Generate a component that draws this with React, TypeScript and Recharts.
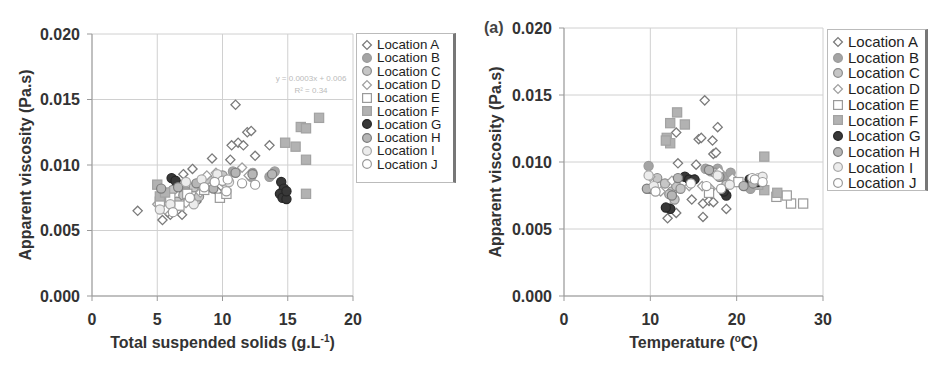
import React from "react";
import { ScatterChart, Scatter, XAxis, YAxis, CartesianGrid, Label } from "recharts";

type Pt = { x: number; y: number };
const pts = (arr: number[][]): Pt[] => arr.map(([x, y]) => ({ x, y }));

// Left panel: total suspended solids (g/L) vs apparent viscosity (Pa.s)
const tssA = pts([[3.5, 0.0065], [11.0, 0.0146], [11.9, 0.0125], [12.2, 0.0126], [11.2, 0.0117], [11.6, 0.0115], [10.7, 0.0115], [9.2, 0.0105], [10.6, 0.0104], [12.5, 0.0107], [13.6, 0.0115], [7.7, 0.0097], [7.0, 0.0093], [5.4, 0.0058], [6.0, 0.0062], [6.9, 0.0062], [8.0, 0.0072], [9.6, 0.008], [6.4, 0.0067], [5.8, 0.0064]]);
const tssB = pts([[10.8, 0.0095], [12.3, 0.0094], [12.2, 0.0091], [13.6, 0.0091], [14.0, 0.0095], [9.8, 0.009], [8.5, 0.0085], [7.2, 0.008]]);
const tssC = pts([[5.5, 0.0078], [6.2, 0.0081], [7.0, 0.0077], [7.8, 0.0083], [9.0, 0.0088], [10.0, 0.0092], [6.5, 0.0072], [8.2, 0.0076], [5.8, 0.0075]]);
const tssD = pts([[5.0, 0.007], [5.6, 0.0066], [6.3, 0.0068], [7.5, 0.0074], [8.3, 0.0079], [9.0, 0.0083], [10.0, 0.0087], [11.5, 0.0098], [12.0, 0.0092], [6.8, 0.0085], [8.8, 0.0092], [7.2, 0.0071], [9.5, 0.0094]]);
const tssE = pts([[5.2, 0.0072], [6.0, 0.0075], [7.3, 0.0078], [8.6, 0.0081], [9.8, 0.0075], [10.3, 0.0078], [6.7, 0.0069]]);
const tssF = pts([[5.0, 0.0085], [5.2, 0.0076], [5.6, 0.0079], [14.8, 0.0117], [15.6, 0.0114], [16.0, 0.0129], [16.4, 0.0128], [17.4, 0.0136], [16.4, 0.0104], [16.4, 0.0078]]);
const tssG = pts([[6.1, 0.009], [6.4, 0.0088], [14.5, 0.0087], [14.7, 0.0082], [14.4, 0.0078], [14.6, 0.0075], [14.9, 0.0074], [14.9, 0.008]]);
const tssH = pts([[5.3, 0.0082], [6.6, 0.0083], [8.0, 0.0086], [9.3, 0.0082], [11.0, 0.0094], [12.3, 0.0093], [13.8, 0.0093]]);
const tssI = pts([[5.2, 0.0066], [6.0, 0.007], [7.2, 0.0087], [8.4, 0.0089], [9.6, 0.0093], [10.5, 0.0087], [7.8, 0.007]]);
const tssJ = pts([[10.0, 0.0088], [10.4, 0.0089], [11.5, 0.0086], [12.5, 0.0085], [9.4, 0.0087], [8.6, 0.0083], [10.3, 0.008], [7.5, 0.0075], [6.2, 0.0064]]);

// Right panel: temperature (°C) vs apparent viscosity (Pa.s)
const tmpA = pts([[16.3, 0.0146], [17.8, 0.0126], [15.6, 0.0117], [15.9, 0.0118], [17.2, 0.0116], [17.3, 0.0106], [17.6, 0.0107], [13.0, 0.0122], [13.2, 0.0099], [15.3, 0.0098], [16.1, 0.0059], [18.8, 0.0065], [14.8, 0.0072], [16.1, 0.0069], [16.8, 0.0071], [17.3, 0.007], [12.0, 0.0058], [13.0, 0.0062]]);
const tmpB = pts([[9.8, 0.0097], [17.0, 0.0093], [17.8, 0.0095], [18.5, 0.0089], [21.0, 0.0082], [21.6, 0.008], [16.4, 0.0095], [19.3, 0.0092]]);
const tmpC = pts([[10.8, 0.0088], [12.5, 0.0078], [13.0, 0.0082], [12.8, 0.0072], [13.5, 0.008], [11.7, 0.0084], [17.5, 0.0092], [18.8, 0.0083], [12.2, 0.0076]]);
const tmpD = pts([[10.0, 0.0089], [11.2, 0.0078], [12.3, 0.0066], [14.5, 0.0082], [16.0, 0.0082], [17.0, 0.008], [18.0, 0.0093], [19.5, 0.0088], [15.2, 0.0087], [12.5, 0.0086]]);
const tmpE = pts([[27.7, 0.0069], [26.3, 0.0069], [25.8, 0.0075], [24.6, 0.0074], [20.2, 0.0085], [16.8, 0.0077]]);
const tmpF = pts([[11.9, 0.0118], [12.3, 0.0129], [13.1, 0.0137], [14.0, 0.0128], [12.3, 0.0114], [11.8, 0.0116], [23.2, 0.0104], [24.7, 0.0077], [23.2, 0.0079], [22.5, 0.0083]]);
const tmpG = pts([[12.3, 0.0065], [11.8, 0.0066], [14.0, 0.0089], [14.5, 0.0087], [18.8, 0.0075], [18.5, 0.0078], [21.5, 0.0087], [22.4, 0.0085], [15.1, 0.0087]]);
const tmpH = pts([[10.0, 0.008], [12.5, 0.0075], [13.2, 0.0088], [16.8, 0.0094], [18.0, 0.0089], [20.8, 0.0082], [21.9, 0.0084], [9.6, 0.008]]);
const tmpI = pts([[22.5, 0.0088], [23.0, 0.0089], [9.8, 0.009], [10.4, 0.0082], [17.8, 0.009], [19.2, 0.0083]]);
const tmpJ = pts([[21.8, 0.0088], [22.1, 0.0087], [16.5, 0.0082], [14.7, 0.0084], [10.6, 0.0078], [18.2, 0.008], [23.0, 0.0085]]);

const locations = ["Location A", "Location B", "Location C", "Location D", "Location E", "Location F", "Location G", "Location H", "Location I", "Location J"];
const yTicks = [0, 0.005, 0.01, 0.015, 0.02];
const tssTicks = [0, 5, 10, 15, 20];
const tempTicks = [0, 10, 20, 30];

type Kind = "diamond" | "circle" | "square";
const styles: { kind: Kind; fill: string; stroke: string }[] = [
  { kind: "diamond", fill: "#fff", stroke: "#7a7a7a" },
  { kind: "circle", fill: "#a4a4a4", stroke: "#9a9a9a" },
  { kind: "circle", fill: "#c6c6c6", stroke: "#8c8c8c" },
  { kind: "diamond", fill: "#fff", stroke: "#a0a0a0" },
  { kind: "square", fill: "#fff", stroke: "#9a9a9a" },
  { kind: "square", fill: "#b2b2b2", stroke: "#a2a2a2" },
  { kind: "circle", fill: "#383838", stroke: "#262626" },
  { kind: "circle", fill: "#b6b6b6", stroke: "#7c7c7c" },
  { kind: "circle", fill: "#ececec", stroke: "#a8a8a8" },
  { kind: "circle", fill: "#fff", stroke: "#9a9a9a" },
];

const marker = (i: number, cx: number, cy: number, r = 4.6) => {
  const s = styles[i];
  if (s.kind === "diamond")
    return <path d={`M${cx},${cy - r}L${cx + r},${cy}L${cx},${cy + r}L${cx - r},${cy}Z`} fill={s.fill} stroke={s.stroke} strokeWidth={1.3} />;
  if (s.kind === "square")
    return <rect x={cx - r} y={cy - r} width={2 * r} height={2 * r} fill={s.fill} stroke={s.stroke} strokeWidth={1.2} />;
  return <circle cx={cx} cy={cy} r={r} fill={s.fill} stroke={s.stroke} strokeWidth={1.2} />;
};

const font = "'Liberation Sans', Arial, sans-serif";
const tickStyle = { fontSize: 16, fontWeight: 700, fill: "#333", fontFamily: font };

function LegendBox({ left, top, width, height, rowH, fontSize }: { left: number; top: number; width: number; height: number; rowH: number; fontSize: number }) {
  return (
    <div style={{ position: "absolute", left, top, width, height, border: "1px solid #bbb", borderRight: "3px solid #777", boxSizing: "border-box", background: "#fff", fontFamily: font }}>
      {locations.map((name, i) => (
        <div key={name} style={{ position: "absolute", left: 3, top: 4 + i * rowH, height: rowH, display: "flex", alignItems: "center", whiteSpace: "nowrap" }}>
          <svg width={14} height={14} style={{ marginRight: 3 }}>{marker(i, 7, 7, 4.4)}</svg>
          <span style={{ fontSize, fontWeight: 400, color: "#1e1e1e", lineHeight: `${rowH}px` }}>{name}</span>
        </div>
      ))}
    </div>
  );
}

function Panel(props: { series: Pt[][]; xTicks: number[]; xMax: number; top: number; yWidth: number; xTitle: React.ReactNode }) {
  const { series, xTicks, xMax, top, yWidth, xTitle } = props;
  return (
    <ScatterChart width={470} height={366} margin={{ top, right: 117, bottom: 0, left: 0 }} style={{ fontFamily: font }}>
      <CartesianGrid stroke="#d0d0d0" strokeWidth={1} />
      <XAxis type="number" dataKey="x" domain={[0, xMax]} ticks={xTicks} height={70} stroke="#999" tickSize={5} tickMargin={13} tick={tickStyle} interval={0}>
        <Label
          content={(p: any) => {
            const vb = p.viewBox || { x: 0, y: 0, width: 0 };
            return (
              <text x={vb.x + vb.width / 2} y={vb.y + 52} textAnchor="middle" fontSize={16} fontWeight={700} fill="#333" fontFamily={font}>
                {xTitle}
              </text>
            );
          }}
        />
      </XAxis>
      <YAxis type="number" dataKey="y" domain={[0, 0.02]} ticks={yTicks} width={yWidth} stroke="#999" tickSize={5} tickMargin={7} tick={tickStyle} tickFormatter={(v: number) => v.toFixed(3)} interval={0}>
        <Label
          content={(p: any) => {
            const vb = p.viewBox || { x: 0, y: 0, height: 0 };
            const cx = 25;
            const cy = vb.y + vb.height / 2;
            return (
              <text x={cx} y={cy} transform={`rotate(-90 ${cx} ${cy})`} textAnchor="middle" dominantBaseline="central" fontSize={16} fontWeight={700} fill="#333" fontFamily={font}>
                Apparent viscosity (Pa.s)
              </text>
            );
          }}
        />
      </YAxis>
      {series.map((d, i) => (
        <Scatter key={i} name={locations[i]} data={d} isAnimationActive={false} shape={(p: any) => marker(i, p.cx, p.cy)} />
      ))}
    </ScatterChart>
  );
}

export default function App() {
  const left = [tssA, tssB, tssC, tssD, tssE, tssF, tssG, tssH, tssI, tssJ];
  const right = [tmpA, tmpB, tmpC, tmpD, tmpE, tmpF, tmpG, tmpH, tmpI, tmpJ];
  return (
    <div style={{ position: "absolute", left: 0, top: 0, width: 940, height: 366, background: "#fff", overflow: "hidden", fontFamily: font }}>
      <div style={{ position: "absolute", left: 0, top: 0 }}>
        <Panel
          series={left}
          xTicks={tssTicks}
          xMax={20}
          top={34}
          yWidth={92}
          xTitle={
            <>
              <tspan>Total suspended solids (g.L</tspan>
              <tspan fontSize={10} dy={-6}>-1</tspan>
              <tspan dy={6}>)</tspan>
            </>
          }
        />
      </div>
      <div style={{ position: "absolute", left: 470, top: 0 }}>
        <Panel
          series={right}
          xTicks={tempTicks}
          xMax={30}
          top={28}
          yWidth={94}
          xTitle={
            <>
              <tspan>Temperature (</tspan>
              <tspan fontSize={10} dy={-6}>o</tspan>
              <tspan dy={6}>C)</tspan>
            </>
          }
        />
      </div>
      <div style={{ position: "absolute", left: 270, top: 73, fontSize: 8, color: "#bbb", textAlign: "center", lineHeight: "12px", width: 82 }}>
        y = 0.0003x + 0.006
        <br />
        R² = 0.34
      </div>
      <div style={{ position: "absolute", left: 484, top: 19, fontSize: 16, fontWeight: 700, color: "#444" }}>(a)</div>
      <LegendBox left={356} top={33} width={100} height={150} rowH={13.3} fontSize={13.3} />
      <LegendBox left={827} top={29} width={101} height={162} rowH={15.7} fontSize={15} />
    </div>
  );
}
